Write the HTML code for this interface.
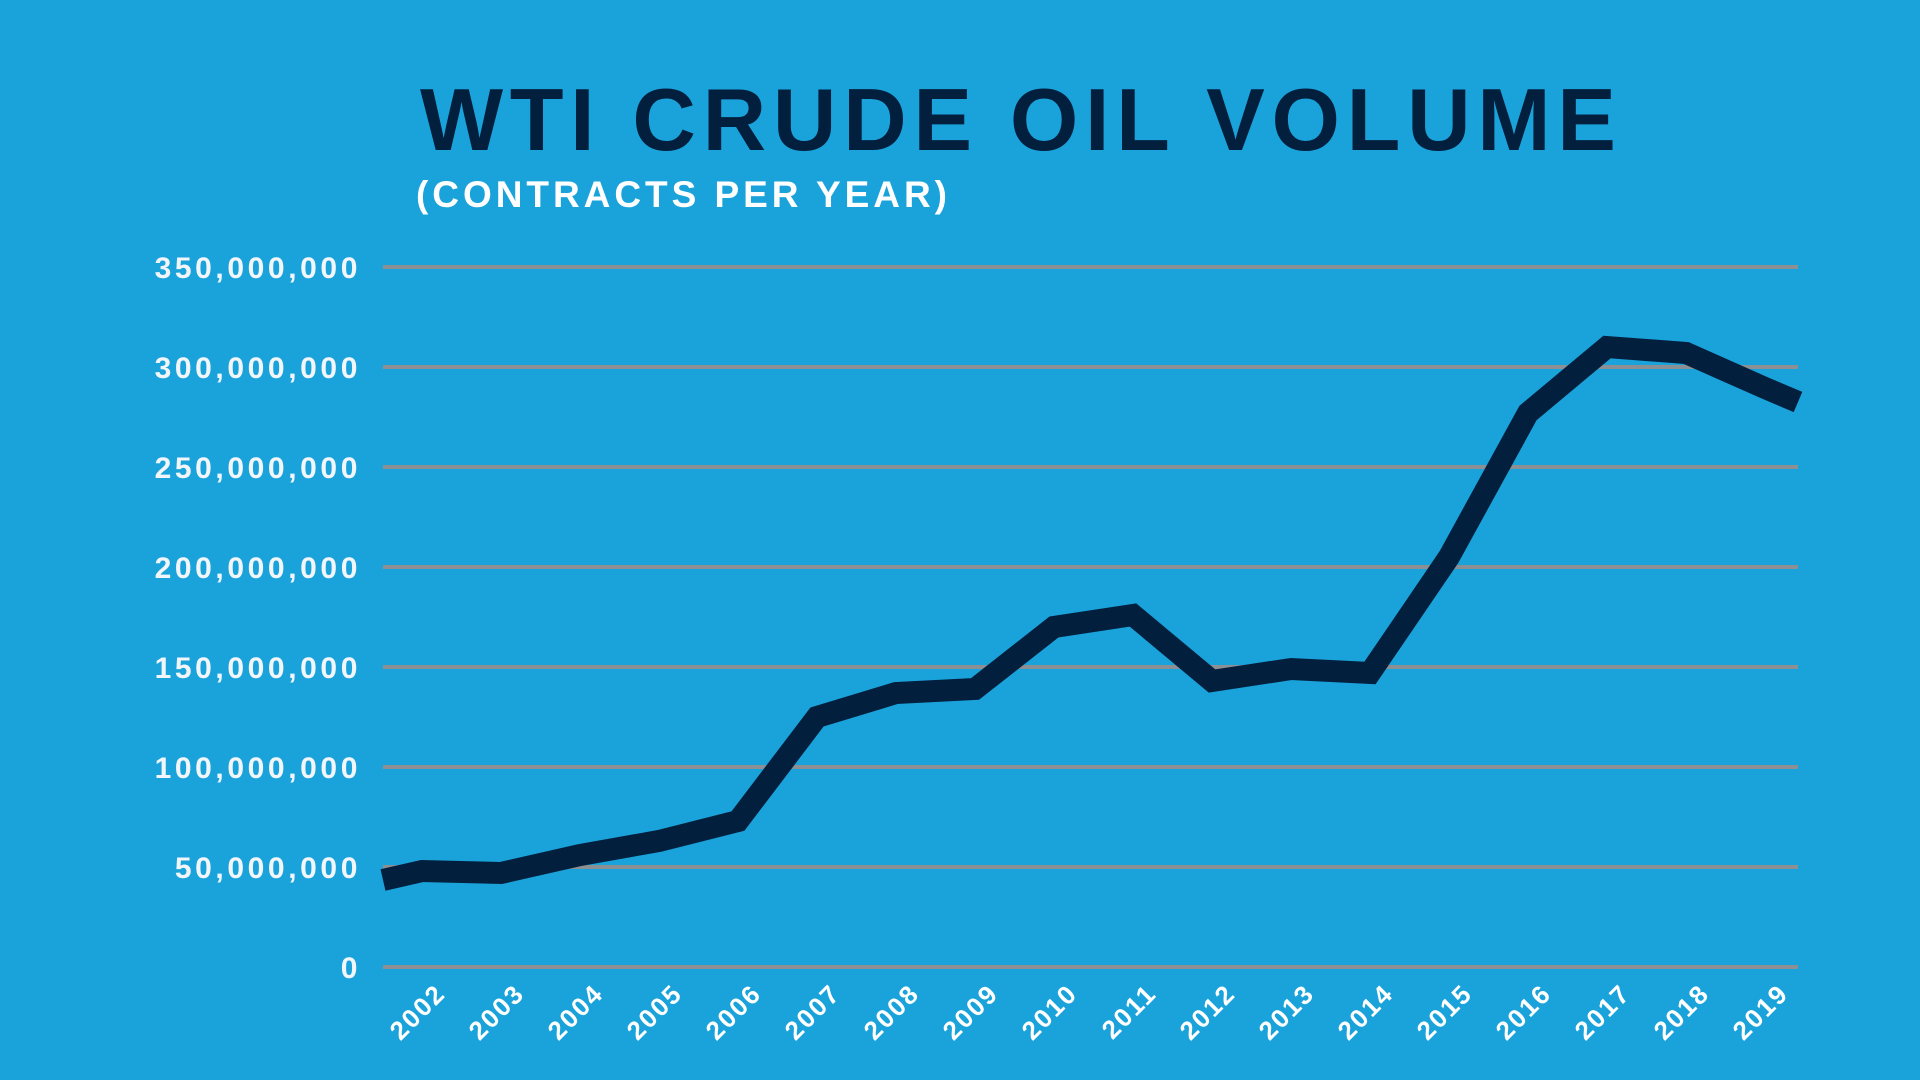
<!DOCTYPE html>
<html><head><meta charset="utf-8"><style>
html,body{margin:0;padding:0;background:#1aa3db;}
svg{display:block;}
</style></head><body>
<svg width="1920" height="1080" viewBox="0 0 1920 1080" xmlns="http://www.w3.org/2000/svg">
<rect width="1920" height="1080" fill="#1aa3db"/>
<text x="420" y="150" font-family="Liberation Sans, sans-serif" font-weight="bold" font-size="88" fill="#021f3d" textLength="1196" lengthAdjust="spacing">WTI CRUDE OIL VOLUME</text>
<text x="416" y="207" font-family="Liberation Sans, sans-serif" font-weight="bold" font-size="37" fill="#ffffff" textLength="531" lengthAdjust="spacing">(CONTRACTS PER YEAR)</text>
<g stroke="#8c8f94" stroke-width="4">
<line x1="383" y1="267" x2="1798" y2="267"/>
<line x1="383" y1="367" x2="1798" y2="367"/>
<line x1="383" y1="467" x2="1798" y2="467"/>
<line x1="383" y1="567" x2="1798" y2="567"/>
<line x1="383" y1="667" x2="1798" y2="667"/>
<line x1="383" y1="767" x2="1798" y2="767"/>
<line x1="383" y1="867" x2="1798" y2="867"/>
<line x1="383" y1="967" x2="1798" y2="967"/>
</g>
<g font-family="Liberation Sans, sans-serif" font-weight="bold" font-size="30" fill="#f2f6fa" text-anchor="end" letter-spacing="3.6">
<text x="361" y="278">350,000,000</text>
<text x="361" y="378">300,000,000</text>
<text x="361" y="478">250,000,000</text>
<text x="361" y="578">200,000,000</text>
<text x="361" y="678">150,000,000</text>
<text x="361" y="778">100,000,000</text>
<text x="361" y="878">50,000,000</text>
<text x="361" y="978">0</text>
</g>
<polyline fill="none" stroke="#021f3d" stroke-width="22" stroke-linejoin="miter"
points="383,880 422,871 501,873 580,855 659,841 738,821 817,717 896,693 975,689 1054,627 1133,615 1212,681 1291,669 1370,673 1449,557 1528,413 1607,347 1686,353 1765,388 1798,402"/>
<g font-family="Liberation Sans, sans-serif" font-weight="bold" font-size="26" fill="#ffffff" text-anchor="end" letter-spacing="2">
<text transform="translate(447,995) rotate(-45)">2002</text>
<text transform="translate(526,995) rotate(-45)">2003</text>
<text transform="translate(605,995) rotate(-45)">2004</text>
<text transform="translate(684,995) rotate(-45)">2005</text>
<text transform="translate(763,995) rotate(-45)">2006</text>
<text transform="translate(842,995) rotate(-45)">2007</text>
<text transform="translate(921,995) rotate(-45)">2008</text>
<text transform="translate(1000,995) rotate(-45)">2009</text>
<text transform="translate(1079,995) rotate(-45)">2010</text>
<text transform="translate(1158,995) rotate(-45)">2011</text>
<text transform="translate(1237,995) rotate(-45)">2012</text>
<text transform="translate(1316,995) rotate(-45)">2013</text>
<text transform="translate(1395,995) rotate(-45)">2014</text>
<text transform="translate(1474,995) rotate(-45)">2015</text>
<text transform="translate(1553,995) rotate(-45)">2016</text>
<text transform="translate(1632,995) rotate(-45)">2017</text>
<text transform="translate(1711,995) rotate(-45)">2018</text>
<text transform="translate(1790,995) rotate(-45)">2019</text>
</g>
</svg>
</body></html>
